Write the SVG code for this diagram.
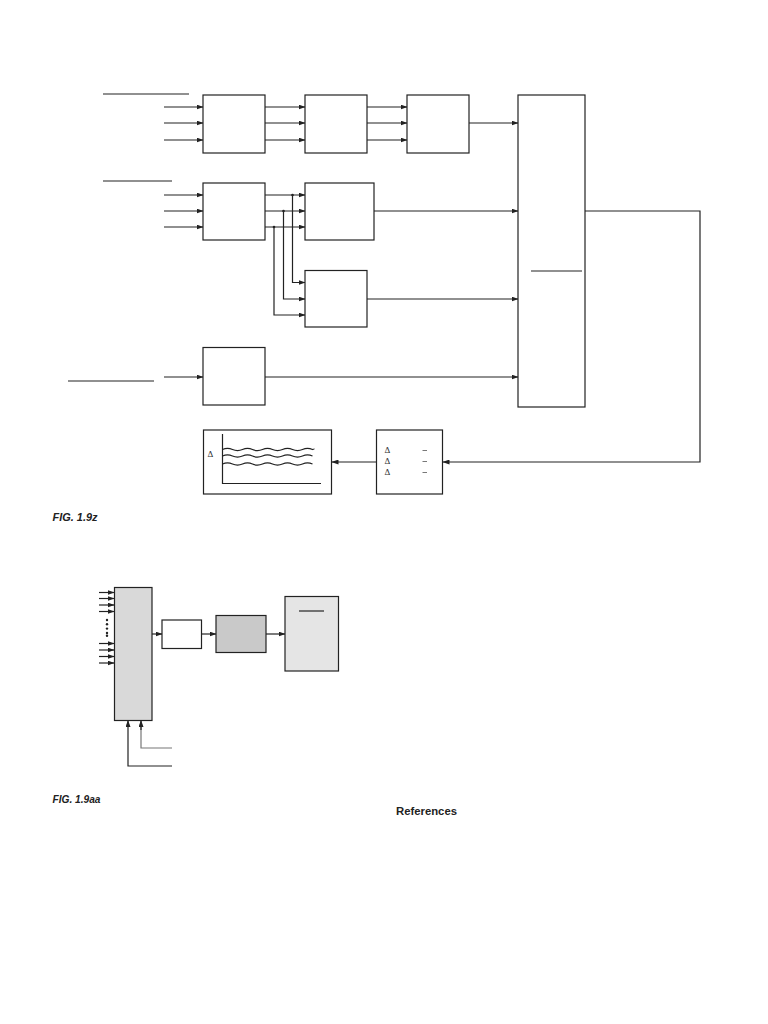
<svg xmlns="http://www.w3.org/2000/svg" width="768" height="1024" viewBox="0 0 768 1024">
<style>
.box{fill:#fff;stroke:#222;stroke-width:1.2}
.ln{fill:none;stroke:#222;stroke-width:1.2}
.arr{fill:none;stroke:#222;stroke-width:1.2;marker-end:url(#ah)}
.gl{fill:none;stroke:#777;stroke-width:1.2}
.cap{font-family:"Liberation Sans",Arial,sans-serif;font-weight:bold;font-style:italic;font-size:10px;fill:#222}
.ref{font-family:"Liberation Sans",Arial,sans-serif;font-weight:bold;font-size:11px;fill:#222}
.sm{font-family:"Liberation Serif","DejaVu Serif",serif;font-size:9px;fill:#333}
</style>
<defs>
<marker id="ah" markerUnits="userSpaceOnUse" markerWidth="7" markerHeight="5" refX="6.5" refY="2.5" orient="auto">
<path d="M0,0 L7,2.5 L0,5 z" fill="#222"/>
</marker>
</defs>
<rect width="768" height="1024" fill="#fff"/>

<g id="labels-lines">
<line class="ln" x1="103" y1="94" x2="189" y2="94"/>
<line class="ln" x1="103" y1="181" x2="172" y2="181"/>
<line class="ln" x1="68" y1="381" x2="154" y2="381"/>
</g>

<g id="connectors">
<!-- row 1 inputs -->
<line class="arr" x1="164" y1="107" x2="203" y2="107"/>
<line class="arr" x1="164" y1="123" x2="203" y2="123"/>
<line class="arr" x1="164" y1="140" x2="203" y2="140"/>
<line class="arr" x1="265" y1="107" x2="305" y2="107"/>
<line class="arr" x1="265" y1="123" x2="305" y2="123"/>
<line class="arr" x1="265" y1="140" x2="305" y2="140"/>
<line class="arr" x1="367" y1="107" x2="407" y2="107"/>
<line class="arr" x1="367" y1="123" x2="407" y2="123"/>
<line class="arr" x1="367" y1="140" x2="407" y2="140"/>
<line class="arr" x1="469" y1="123" x2="518" y2="123"/>
<!-- row 2 -->
<line class="arr" x1="164" y1="195" x2="203" y2="195"/>
<line class="arr" x1="164" y1="211" x2="203" y2="211"/>
<line class="arr" x1="164" y1="227" x2="203" y2="227"/>
<line class="arr" x1="265" y1="195" x2="305" y2="195"/>
<line class="arr" x1="265" y1="211" x2="305" y2="211"/>
<line class="arr" x1="265" y1="227" x2="305" y2="227"/>
<polyline class="arr" points="292.5,195 292.5,282.5 305,282.5"/>
<polyline class="arr" points="283.5,211 283.5,299 305,299"/>
<polyline class="arr" points="274,227 274,315 305,315"/>
<circle cx="292.5" cy="195" r="1.3" fill="#222"/>
<circle cx="283.5" cy="211" r="1.3" fill="#222"/>
<circle cx="274" cy="227" r="1.3" fill="#222"/>
<line class="arr" x1="374" y1="211" x2="518" y2="211"/>
<line class="arr" x1="367" y1="299" x2="518" y2="299"/>
<!-- row 3 -->
<line class="arr" x1="164" y1="377" x2="203" y2="377"/>
<line class="arr" x1="265" y1="377" x2="518" y2="377"/>
<!-- feedback -->
<polyline class="arr" points="585,211 700,211 700,462 443,462"/>
<line class="arr" x1="376" y1="462" x2="332" y2="462"/>
<!-- fig 1.9aa -->
<line class="arr" x1="99" y1="592.5" x2="114" y2="592.5"/>
<line class="arr" x1="99" y1="598.5" x2="114" y2="598.5"/>
<line class="arr" x1="99" y1="605" x2="114" y2="605"/>
<line class="arr" x1="99" y1="611.5" x2="114" y2="611.5"/>
<line class="arr" x1="99" y1="643.5" x2="114" y2="643.5"/>
<line class="arr" x1="99" y1="650" x2="114" y2="650"/>
<line class="arr" x1="99" y1="656.5" x2="114" y2="656.5"/>
<line class="arr" x1="99" y1="663" x2="114" y2="663"/>
<circle cx="107" cy="620" r="1.2" fill="#222"/>
<circle cx="107" cy="624.3" r="1.2" fill="#222"/>
<circle cx="107" cy="628.6" r="1.2" fill="#222"/>
<circle cx="107" cy="633" r="1.2" fill="#222"/>
<circle cx="107" cy="635.8" r="1.2" fill="#222"/>
<line class="arr" x1="152" y1="634" x2="162" y2="634"/>
<line class="arr" x1="201" y1="634" x2="216" y2="634"/>
<line class="arr" x1="266" y1="634" x2="285" y2="634"/>
<polyline class="gl" points="172,748 141,748 141,726"/>
<line class="arr" x1="141" y1="730" x2="141" y2="720.5"/>
<polyline class="arr" points="172,766 128,766 128,720.5"/>
</g>

<g id="n-a1"><rect class="box" x="203" y="95" width="62" height="58"/></g>
<g id="n-a2"><rect class="box" x="305" y="95" width="62" height="58"/></g>
<g id="n-a3"><rect class="box" x="407" y="95" width="62" height="58"/></g>
<g id="n-b1"><rect class="box" x="203" y="183" width="62" height="57"/></g>
<g id="n-b2"><rect class="box" x="305" y="183" width="69" height="57"/></g>
<g id="n-c"><rect class="box" x="305" y="270.5" width="62" height="56.5"/></g>
<g id="n-d"><rect class="box" x="203" y="347.5" width="62" height="57.5"/></g>
<g id="n-big"><rect class="box" x="518" y="95" width="67" height="312"/>
<line class="ln" x1="531" y1="271" x2="582" y2="271"/></g>
<g id="n-e"><rect class="box" x="376.5" y="430" width="66" height="64"/>
<text class="sm" x="384.5" y="453">Δ</text>
<text class="sm" x="384.5" y="464">Δ</text>
<text class="sm" x="384.5" y="475">Δ</text>
<line x1="422.5" y1="450.5" x2="427" y2="450.5" stroke="#555" stroke-width="0.8"/>
<line x1="422.5" y1="461.5" x2="427" y2="461.5" stroke="#555" stroke-width="0.8"/>
<line x1="422.5" y1="472.5" x2="427" y2="472.5" stroke="#555" stroke-width="0.8"/>
</g>
<g id="n-f"><rect class="box" x="203.5" y="430" width="128" height="64"/>
<polyline class="ln" points="222.5,434 222.5,483.5 321,483.5"/>
<text class="sm" x="207.5" y="457">Δ</text>
<path class="ln" d="M222.5,449.5 q5,-2.2 10,0 t10,0 t10,0 t10,0 t10,0 t10,0 t10,0 t10,0 t10,0 q1.5,-0.6 2,-0.5"/>
<path class="ln" d="M222.5,456 q5,-2.2 10,0 t10,0 t10,0 t10,0 t10,0 t10,0 t10,0 t10,0 t10,0"/>
<path class="ln" d="M222.5,464 q5,-2.2 10,0 t10,0 t10,0 t10,0 t10,0 t10,0 t10,0 t10,0 t10,0"/>
</g>

<g id="n-tall"><rect x="114.5" y="587.5" width="37.5" height="133" fill="#d9d9d9" stroke="#222" stroke-width="1.2"/></g>
<g id="n-small"><rect class="box" x="162" y="620" width="39.5" height="28.5"/></g>
<g id="n-gray"><rect x="216" y="615.5" width="50" height="37" fill="#c9c9c9" stroke="#222" stroke-width="1.2"/></g>
<g id="n-light"><rect x="285" y="596.5" width="53.5" height="74.5" fill="#e5e5e5" stroke="#222" stroke-width="1.2"/>
<line class="ln" x1="299" y1="611" x2="324" y2="611"/></g>

<text class="cap" x="52.5" y="521" textLength="45" lengthAdjust="spacingAndGlyphs">FIG. 1.9z</text>
<text class="cap" x="52.5" y="803" textLength="48" lengthAdjust="spacingAndGlyphs">FIG. 1.9aa</text>
<text class="ref" x="396" y="814.5" textLength="61" lengthAdjust="spacingAndGlyphs">References</text>
</svg>
